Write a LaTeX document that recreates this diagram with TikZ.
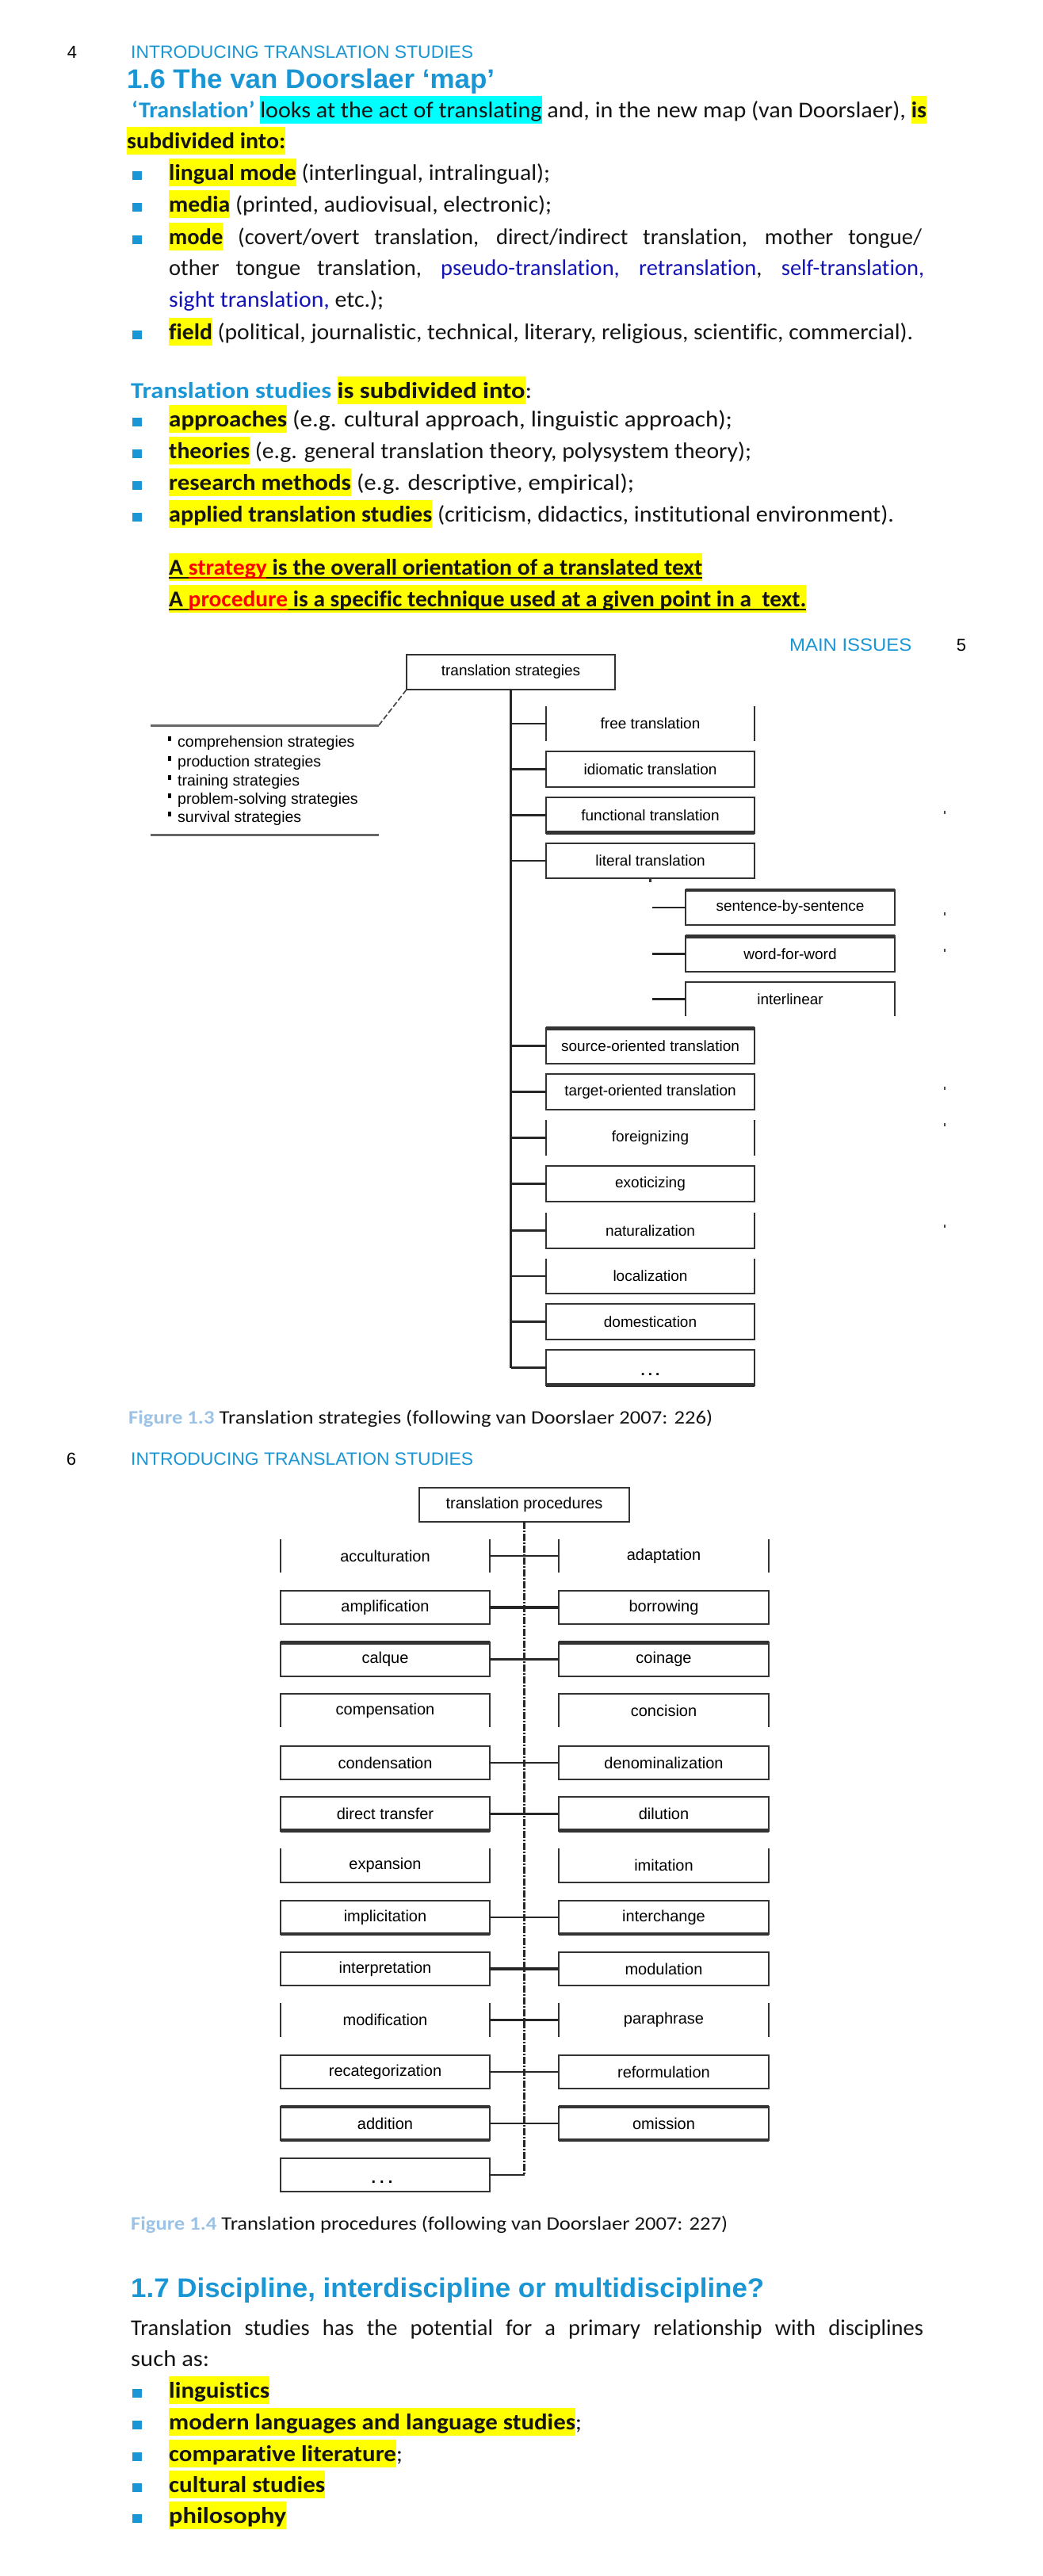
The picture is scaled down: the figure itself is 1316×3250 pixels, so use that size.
\documentclass[tikz,border=0pt]{standalone}
\usepackage{fontspec}
\setmainfont{Carlito}[Ligatures={NoCommon,NoRare,NoDiscretionary}]
\newfontfamily\arial{Liberation Sans}
\usepackage{graphicx}
\usepackage{xcolor}
\definecolor{hdr}{HTML}{1A96D4}
\definecolor{figblue}{HTML}{9CC3E5}
\definecolor{linkblue}{HTML}{1414B4}
\definecolor{hlyellow}{HTML}{FFFF00}
\definecolor{hlcyan}{HTML}{00FFFF}
\definecolor{bodyk}{HTML}{141414}
\newcommand\fitto[2]{\resizebox{#1}{\height}{#2}}
\newcommand\hlstrut{\rule[-0.28em]{0pt}{1.23em}}
\newcommand\hly[1]{{\setlength\fboxsep{0pt}\colorbox{hlyellow}{\hlstrut#1}}}
\newcommand\hlc[1]{{\setlength\fboxsep{0pt}\colorbox{hlcyan}{\hlstrut#1}}}
\newcommand\bodyf{\fontsize{28.5}{34}\selectfont}
\newcommand\boxF[1]{\draw[bedge] (#1.south west) rectangle (#1.north east);}
\newcommand\boxS[1]{\draw[bedge] (#1.north west) -- (#1.south west) (#1.north east) -- (#1.south east);}
\newcommand\boxB[1]{\draw[bedge] (#1.north west) -- (#1.south west) -- (#1.south east) -- (#1.north east);}
\newcommand\boxT[1]{\draw[bedge] (#1.south west) -- (#1.north west) -- (#1.north east) -- (#1.south east);}
\newcommand\thkn[1]{}
\newcommand\thkt[1]{\draw[bedge, line width=4.5] (#1.north west) -- (#1.north east);}
\newcommand\thkb[1]{\draw[bedge, line width=4.5] (#1.south west) -- (#1.south east);}
\newcommand\thkx[1]{\thkt{#1}\thkb{#1}}
\newcommand\cnc[2]{\draw[conn] (#1.east) -- (#2.west);}
\newcommand\cnk[2]{\draw[conn, line width=4.5] (#1.east) -- (#2.west);}
\newcommand\cnx[2]{}
\newcommand\bsq[1]{\fill[hdr] (167,#1-11) rectangle (179,#1);}
\tikzset{
  txt/.style={anchor=base west, inner sep=0, font=\bodyf, text=bodyk},
  hdrtxt/.style={anchor=base west, inner sep=0, font=\arial\fontsize{22.5}{26}\selectfont, text=hdr},
  pgnum/.style={anchor=base, inner sep=0, font=\arial\fontsize{22}{26}\selectfont, text=black},
  captxt/.style={anchor=base west, inner sep=0, font=\fontsize{24}{28}\selectfont, text=bodyk},
  dfont/.style={font=\arial\fontsize{19}{22}\selectfont, text=black},
  sbox/.style={dfont, inner sep=0, minimum width=263, minimum height=44},
  pbox/.style={font=\arial\fontsize{20}{24}\selectfont, text=black, inner sep=0, minimum width=264, minimum height=42},
  bedge/.style={draw=black!80, line width=2.2},
  conn/.style={draw=black!85, line width=2.5},
  lst/.style={anchor=base west, inner sep=0, font=\arial\fontsize{19.5}{22}\selectfont, text=black},
}
\begin{document}
\begin{tikzpicture}[x=1pt,y=-1pt]
\fill[white] (0,0) rectangle (1316,3250);
\useasboundingbox (0,0) rectangle (1316,3250);

% ---------- page 4 header
\node[pgnum] (pg4) at (91,73) {4};
\node[hdrtxt] (h4) at (165,73) {\fitto{432pt}{INTRODUCING TRANSLATION STUDIES}};
\node[hdrtxt, font=\arial\bfseries\fontsize{34}{40}\selectfont] (h16) at (160,111) {\fitto{464pt}{1.6 The van Doorslaer ‘map’}};

\node[txt] (l1) at (166,148) {\fitto{1003pt}{\textcolor{hdr}{\textbf{‘Translation’}} \hlc{looks at the act of translating} and, in the new map (van Doorslaer), \hly{\textbf{is}}}};
\node[txt] (l2) at (160,187) {\fitto{200pt}{\hly{\textbf{subdivided into:}}}};
\bsq{227}\node[txt] (l3) at (213,227) {\fitto{481pt}{\hly{\textbf{lingual mode}} (interlingual, intralingual);}};
\bsq{267}\node[txt] (l4) at (213,267) {\fitto{483pt}{\hly{\textbf{media}} (printed, audiovisual, electronic);}};
\bsq{308}\node[txt] (l5) at (213,308) {\makebox[950pt][s]{\hly{\textbf{mode}} (covert/overt translation, direct/indirect translation, mother tongue/}};
\node[txt] (l6) at (213,347) {\makebox[953pt][s]{other tongue translation, \textcolor{linkblue}{pseudo-translation,} \textcolor{linkblue}{retranslation}, \textcolor{linkblue}{self-translation,}}};
\node[txt] (l7) at (213,387) {\fitto{271pt}{\textcolor{linkblue}{sight translation,} etc.);}};
\bsq{428}\node[txt] (l8) at (213,428) {\fitto{939pt}{\hly{\textbf{field}} (political, journalistic, technical, literary, religious, scientific, commercial).}};

\node[txt] (t1) at (165,502) {\fitto{506pt}{\textcolor{hdr}{\textbf{Translation studies}} \hly{\textbf{is subdivided into}}:}};
\bsq{538}\node[txt] (t2) at (213,538) {\fitto{711pt}{\hly{\textbf{approaches}} (e.g. cultural approach, linguistic approach);}};
\bsq{578}\node[txt] (t3) at (213,578) {\fitto{735pt}{\hly{\textbf{theories}} (e.g. general translation theory, polysystem theory);}};
\bsq{618}\node[txt] (t4) at (213,618) {\fitto{587pt}{\hly{\textbf{research methods}} (e.g. descriptive, empirical);}};
\bsq{658}\node[txt] (t5) at (213,658) {\fitto{915pt}{\hly{\textbf{applied translation studies}} (criticism, didactics, institutional environment).}};

\node[txt] (s1) at (213,725) {\fitto{673pt}{\hly{\textbf{A \textcolor{red}{strategy} is the overall orientation of a translated text}}}};
\node[txt] (s2) at (213,765) {\fitto{804pt}{\hly{\textbf{A \textcolor{red}{procedure} is a specific technique used at a given point in a\ \ text.}}}};
\draw[bodyk, line width=2] ([yshift=-4]s1.base west) -- ([yshift=-4]s1.base east);
\draw[red!85!black, line width=2] ([xshift=25,yshift=-4]s1.base west) -- ([xshift=123,yshift=-4]s1.base west);
\draw[bodyk, line width=2] ([yshift=-4]s2.base west) -- ([yshift=-4]s2.base east);
\draw[red!85!black, line width=2] ([xshift=25,yshift=-4]s2.base west) -- ([xshift=150,yshift=-4]s2.base west);

% ---------- page 5 : strategies
\node[hdrtxt] (mi) at (996,821) {\fitto{154pt}{MAIN ISSUES}};
\node[pgnum] (pg5) at (1213,821) {5};

\node[sbox] (ts) at (644.5,848) {translation strategies};
\boxF{ts}
\coordinate (lgR) at (478,915);
\coordinate (lgL) at (190,915);
\coordinate (lbL) at (190,1053);
\coordinate (lbR) at (478,1053);
\draw[draw=black!75, line width=1.6, dash pattern=on 7pt off 3pt] (ts.south west) -- (lgR);
\draw[draw=black!60, line width=3] (lgL) -- (lgR);
\draw[draw=black!60, line width=3] (lbL) -- (lbR);
\foreach \yy/\tx in {942/comprehension strategies, 967/production strategies, 991/training strategies, 1014/problem-solving strategies, 1037/survival strategies}{
  \fill[black] (212,\yy-13) rectangle (215.5,\yy-7);
  \node[lst] at (224,\yy) {\tx};
}

\foreach \nm/\yy/\tx/\kd/\th in {sfree/913/free translation/S/n, sidiom/970.5/idiomatic translation/F/n, sfunc/1028.5/functional translation/F/b, sliteral/1086/literal translation/F/n, ssource/1319.5/source-oriented translation/F/t, starget/1377.5/target-oriented translation/F/n, sforeign/1435.5/foreignizing/S/n, sexot/1493.5/exoticizing/F/n, snatural/1552.5/naturalization/B/n, slocal/1610/localization/B/n, sdomest/1667.5/domestication/F/n}{
  \node[sbox] (\nm) at (820.5,\yy) {\tx};
  \csname box\kd\endcsname{\nm}
  \csname thk\th\endcsname{\nm}
  \draw[conn] (ts.south |- \nm.west) -- (\nm.west);
}
\node[sbox] (sdots) at (820.5,1725.5) {};
\boxF{sdots}\thkb{sdots}
\node[dfont, inner sep=0] (sdotsT) at ([yshift=-9]sdots.center) {\textbf{.\hspace{4pt}.\hspace{4pt}.}};
\draw[conn] (ts.south |- sdots.west) -- (sdots.west);
\draw[conn, line width=3] (ts.south) -- (ts.south |- sdots.west);

\node[sbox, minimum width=264] (ssbs) at (997,1145) {sentence-by-sentence};
\boxF{ssbs}\thkt{ssbs}
\node[sbox, minimum width=264] (swfw) at (997,1203.5) {word-for-word};
\boxF{swfw}\thkt{swfw}
\node[sbox, minimum width=264, minimum height=43] (sint) at (997,1260.5) {interlinear};
\boxT{sint}
\draw[bedge] (sliteral.south) -- ++(0,5);
\draw[conn] ([xshift=2]sliteral.south |- ssbs.west) -- (ssbs.west);
\draw[conn] ([xshift=2]sliteral.south |- swfw.west) -- (swfw.west);
\draw[conn] ([xshift=2]sliteral.south |- sint.west) -- (sint.west);
\foreach \yy in {1025,1153,1199,1373,1419,1547}{
  \draw[black!70, line width=1.2] (1192,\yy-2) -- (1192,\yy+2);
}

\node[captxt] (cap13) at (162,1796) {\fitto{737pt}{\textcolor{figblue}{\textbf{Figure 1.3}} Translation strategies (following van Doorslaer 2007: 226)}};

% ---------- page 6 : procedures
\node[pgnum] (pg6) at (90,1848) {6};
\node[hdrtxt] (h6) at (165,1848) {\fitto{432pt}{INTRODUCING TRANSLATION STUDIES}};

\node[pbox, minimum height=43] (tp) at (661.5,1898.5) {translation procedures};
\boxF{tp}

\foreach \i/\yy/\lt/\rt/\kd/\th/\cn in {1/1963/acculturation/adaptation/S/n/c, 2/2028/amplification/borrowing/F/n/k, 3/2093.5/calque/coinage/F/t/c, 4/2158/compensation/concision/T/n/x, 5/2224/condensation/denominalization/F/n/c, 6/2288.5/direct transfer/dilution/F/b/c, 7/2353.5/expansion/imitation/B/n/x, 8/2419/implicitation/interchange/F/b/c, 9/2484/interpretation/modulation/F/n/k, 10/2548.5/modification/paraphrase/S/n/c, 11/2614/recategorization/reformulation/F/n/c, 12/2679/addition/omission/F/x/c}{
  \node[pbox] (pl\i) at (486,\yy) {\lt};
  \node[pbox, minimum width=265] (pr\i) at (837.5,\yy) {\rt};
  \csname box\kd\endcsname{pl\i}
  \csname box\kd\endcsname{pr\i}
  \csname thk\th\endcsname{pl\i}
  \csname thk\th\endcsname{pr\i}
  \csname cn\cn\endcsname{pl\i}{pr\i}
}
\node[pbox] (pl13) at (486,2744) {};
\boxF{pl13}
\node[pbox, minimum width=0, minimum height=0] (pdotsT) at ([xshift=-4,yshift=-9]pl13.center) {\textbf{.\hspace{5pt}.\hspace{5pt}.}};
\draw[conn] (pl13.east) -- (tp.south |- pl13.east);
\draw[draw=black!85, line width=2.6, dash pattern=on 9pt off 2pt on 2pt off 2pt] (tp.south) -- (tp.south |- pl13.east);

\node[captxt] (cap14) at (165,2813) {\fitto{753pt}{\textcolor{figblue}{\textbf{Figure 1.4}} Translation procedures (following van Doorslaer 2007: 227)}};

% ---------- 1.7
\node[hdrtxt, font=\arial\bfseries\fontsize{34}{40}\selectfont] (h17) at (165,2898) {\fitto{799pt}{1.7 Discipline, interdiscipline or multidiscipline?}};
\node[txt] (p1) at (165,2946) {\makebox[1000pt][s]{Translation studies has the potential for a primary relationship with disciplines}};
\node[txt] (p2) at (165,2985) {\fitto{99pt}{such as:}};
\bsq{3025}\node[txt] (b1) at (213,3025) {\fitto{127pt}{\hly{\textbf{linguistics}}}};
\bsq{3065}\node[txt] (b2) at (213,3065) {\fitto{521pt}{\hly{\textbf{modern languages and language studies}};}};
\bsq{3105}\node[txt] (b3) at (213,3105) {\fitto{295pt}{\hly{\textbf{comparative literature}};}};
\bsq{3144}\node[txt] (b4) at (213,3144) {\fitto{197pt}{\hly{\textbf{cultural studies}}}};
\bsq{3183}\node[txt] (b5) at (213,3183) {\fitto{148pt}{\hly{\textbf{philosophy}}}};
\end{tikzpicture}
\end{document}
